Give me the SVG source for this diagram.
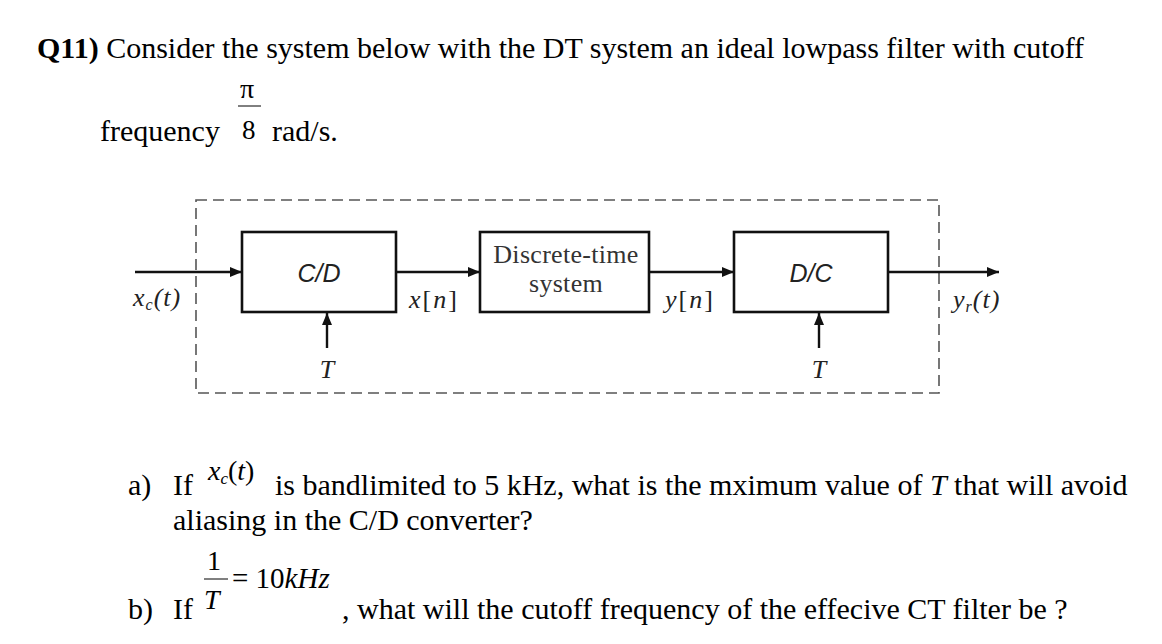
<svg xmlns="http://www.w3.org/2000/svg" width="1162" height="644" viewBox="0 0 1162 644">
<style>
.t{font-family:"Liberation Serif","Times New Roman",serif;font-size:30px;fill:#000}
.i{font-style:italic}
.b{font-weight:bold}
.blk{fill:#fff;stroke:#111;stroke-width:2.6}
.lbl{font-family:"Liberation Serif","Times New Roman",serif;font-size:26px;fill:#222}
.dl{font-family:"Liberation Serif","Times New Roman",serif;font-size:26px;fill:#333}
.sl{font-family:"Liberation Sans",Arial,sans-serif;font-style:italic;font-size:25px;fill:#222}
.w{stroke:#111;stroke-width:2.4;fill:none}
.frame{fill:none;stroke:#555;stroke-width:1.6;stroke-dasharray:11 6}
</style>
<defs>
<marker id="ah" viewBox="0 0 12 10" refX="12" refY="5" markerWidth="12" markerHeight="10" markerUnits="userSpaceOnUse" orient="auto">
<path d="M0,0 L12,5 L0,10 Z" fill="#111"/>
</marker>
</defs>
<rect width="1162" height="644" fill="#fff"/>

<g id="question">
<text class="t" x="37" y="58"><tspan class="b">Q11)</tspan> Consider the system below with the DT system an ideal lowpass filter with cutoff</text>
<text class="t" x="100" y="141">frequency</text>
<text class="t" x="240" y="98" style="font-size:28px">π</text>
<line x1="238" y1="106" x2="261" y2="106" stroke="#000" stroke-width="1"/>
<text class="t" x="242" y="139" style="font-size:27px">8</text>
<text class="t" x="272" y="141">rad/s.</text>
</g>

<g id="frame"><rect class="frame" x="196" y="200" width="743" height="193"/></g>

<g id="connectors">
<line class="w" x1="135" y1="272" x2="242" y2="272" marker-end="url(#ah)"/>
<line class="w" x1="396" y1="272" x2="480" y2="272" marker-end="url(#ah)"/>
<line class="w" x1="649" y1="272" x2="734" y2="272" marker-end="url(#ah)"/>
<line class="w" x1="888" y1="272" x2="999" y2="272" marker-end="url(#ah)"/>
<line class="w" x1="327" y1="348" x2="327" y2="313" marker-end="url(#ah)"/>
<line class="w" x1="819" y1="348" x2="819" y2="313" marker-end="url(#ah)"/>
</g>

<g id="cd">
<rect class="blk" x="242" y="232" width="154" height="80"/>
<text class="sl" x="319" y="282" text-anchor="middle">C/D</text>
</g>
<g id="dt">
<rect class="blk" x="480" y="232" width="169" height="80"/>
<text class="dl" x="566" y="263" text-anchor="middle" letter-spacing="0.3">Discrete-time</text>
<text class="dl" x="566" y="292" text-anchor="middle" letter-spacing="0.3">system</text>
</g>
<g id="dc">
<rect class="blk" x="734" y="232" width="154" height="80"/>
<text class="sl" x="811" y="282" text-anchor="middle">D/C</text>
</g>

<g id="labels">
<text class="lbl i" x="133" y="306" letter-spacing="1">x<tspan font-size="16" dy="4">c</tspan><tspan dy="-4">(</tspan>t)</text>
<text class="lbl i" x="409" y="308" letter-spacing="2">x<tspan font-style="normal">[</tspan>n<tspan font-style="normal">]</tspan></text>
<text class="lbl i" x="665" y="308" letter-spacing="2">y<tspan font-style="normal">[</tspan>n<tspan font-style="normal">]</tspan></text>
<text class="lbl i" x="953" y="308" letter-spacing="1">y<tspan font-size="16" dy="4">r</tspan><tspan dy="-4">(</tspan>t)</text>
<text class="lbl i" x="327" y="378" text-anchor="middle">T</text>
<text class="lbl i" x="819" y="378" text-anchor="middle">T</text>
</g>

<g id="parts">
<text class="t" x="128" y="495">a)</text>
<text class="t" x="173" y="495">If</text>
<text class="t i" x="208" y="480" style="font-size:28px">x<tspan font-size="17" dy="4">c</tspan><tspan dy="-4" font-style="normal">(</tspan>t<tspan font-style="normal">)</tspan></text>
<text class="t" x="275" y="495">is bandlimited to 5 kHz, what is the mximum value of <tspan class="i">T</tspan> that will avoid</text>
<text class="t" x="173" y="530">aliasing in the C/D converter?</text>
<text class="t" x="207" y="570" style="font-size:28px">1</text>
<line x1="204" y1="579" x2="228" y2="579" stroke="#000" stroke-width="1"/>
<text class="t i" x="204" y="609" style="font-size:28px">T</text>
<text class="t" x="232" y="588" style="font-size:29px">= 10<tspan class="i">kHz</tspan></text>
<text class="t" x="128" y="619">b)</text>
<text class="t" x="173" y="619">If</text>
<text class="t" x="342" y="619">, what will the cutoff frequency of the effecive CT filter be ?</text>
</g>
</svg>
